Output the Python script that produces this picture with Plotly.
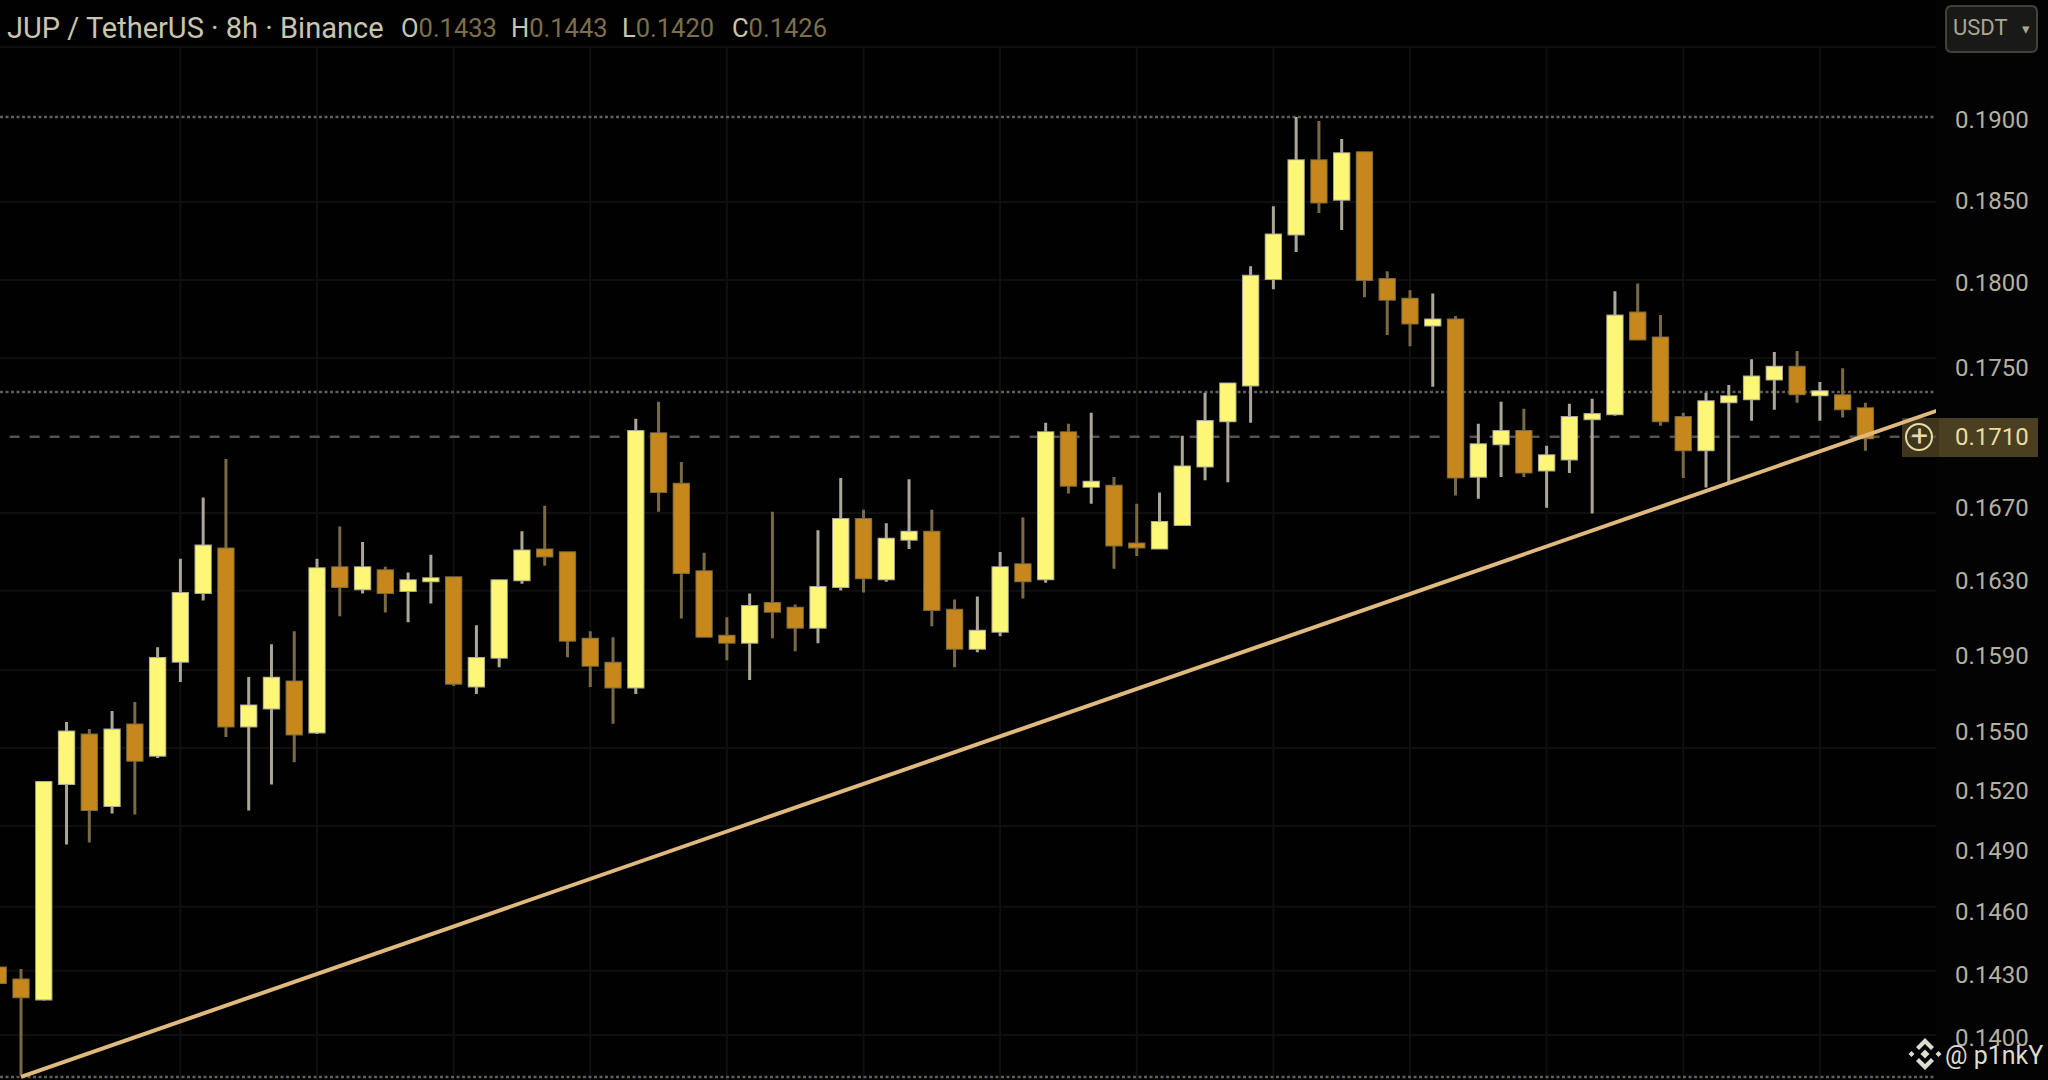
import plotly.graph_objects as go

W, H = 2048, 1080

index = list(range(83))
open_ = [.1433,.14273,.14183,.15236,.15484,.15125,.15536,.15381,.15869,.16236,.16473,.15531,.15624,.1576,.155,.16371,.16257,.16354,.16247,.163,
         .16316,.15739,.1589,.16305,.16468,.16452,.15986,.15858,.15734,.17117,.16831,.16349,.16001,.1597,.16177,.16151,.1605,.16268,.16635,.16311,
         .16527,.16565,.1614,.15938,.16028,.16387,.16311,.17123,.1682,.1682,.165,.16478,.16608,.16934,.17191,.17397,.18024,.18293,.18744,.18506,
         .18794,.18018,.179,.17747,.17777,.16877,.1706,.17129,.16912,.16974,.17203,.17231,.17818,.17671,.17209,.17026,.173,.17317,.17431,.175,
         .1734,.17334,.1726]
high = [.1443,.14325,.15242,.15552,.15516,.15609,.15656,.15943,.16419,.16757,.16974,.15786,.15959,.16028,.16419,.16597,.16511,.16376,.16344,.16441,
        .16316,.1606,.163,.1657,.16712,.16452,.16028,.15996,.17203,.173,.16957,.16452,.16103,.16231,.16678,.16172,.16576,.16866,.16689,.16614,
        .1686,.16689,.16199,.16215,.16457,.16646,.1718,.17174,.17237,.16872,.16723,.16786,.17106,.17352,.17403,.18097,.18463,.19019,.18994,.18881,
        .18794,.18067,.17953,.17935,.178,.17174,.173,.1726,.17049,.17289,.17317,.17947,.17994,.17806,.17237,.17352,.17397,.17547,.17588,.17594,
        .17414,.17494,.17294]
low = [.1420,.13828,.14174,.1493,.1494,.15085,.1508,.15366,.1576,.16193,.15474,.151,.15231,.15345,.1549,.16108,.16231,.16129,.16076,.16177,
       .15739,.15697,.15838,.16284,.16381,.1589,.15734,.15542,.15697,.16678,.16097,.15996,.15874,.1577,.15991,.15922,.15965,.16247,.16236,.16295,
       .16473,.16055,.15838,.15917,.16001,.16204,.16289,.1678,.16723,.16365,.16435,.16473,.16603,.16854,.16843,.1718,.17959,.18183,.18421,.18317,
       .17912,.17688,.17623,.17386,.16769,.16751,.16872,.16872,.167,.16894,.16668,.1722,.17659,.17163,.16866,.16814,.16837,.17191,.17254,.17294,
       .17191,.17209,.1702]
close = [.1426,.14193,.15242,.155,.15105,.1551,.15355,.15884,.16231,.16489,.15531,.15635,.1578,.1549,.16365,.16268,.16371,.16236,.163,.16311,
         .15754,.15884,.163,.16462,.16435,.1598,.15848,.15734,.17129,.16791,.16344,.16001,.1597,.16161,.16135,.1605,.16263,.16635,.16316,.16527,
         .16565,.16145,.15938,.16028,.16371,.163,.17123,.16826,.16843,.16495,.16484,.16619,.16929,.17186,.17403,.18037,.18287,.18744,.18488,.18788,
         .18018,.179,.17759,.17777,.16872,.17054,.17129,.169,.16992,.17209,.17226,.178,.17665,.17191,.17026,.173,.17329,.17443,.175,.17346,
         .17357,.1726,.17094]

tick_values = [.19,.185,.18,.175,.171,.167,.163,.159,.155,.152,.149,.146,.143,.14]
tick_labels = ["0.1900","0.1850","0.1800","0.1750",'<span style="color:#e9dca0">0.1710</span>',"0.1670","0.1630",
               "0.1590","0.1550","0.1520","0.1490","0.1460","0.1430","0.1400"]

grid_levels = [.19467,.18489,.18015,.17554,.16671,.16245,.15823,.15418,.15023,.14624,.14316,.14014]
time_grid = [8,14,20,26,32,38,44,50,56,62,68,74,80]
dotted_levels = [.19019,.17356,.13819]
last_price = .1710
trend_index = [1,85.15]
trend_price = [.1382,.17249]

x_range = [0.0777,85.1]
y_range_log = [-0.85995,-0.70391]
y_grid_bottom = .13600

GRID = "#0f0f0e"


def px(x):
    return x / W


def py(y):
    return 1 - y / H


def data_line(x0, x1, y0, y1, **line):
    return dict(type="line", xref="x", yref="y", x0=x0, x1=x1, y0=y0, y1=y1, line=line, layer="below")


fig = go.Figure()

# wicks
fig.add_trace(go.Candlestick(
    x=index, open=open_, high=high, low=low, close=close,
    increasing=dict(line=dict(color="#aaa797", width=3), fillcolor="#aaa797"),
    decreasing=dict(line=dict(color="#7a6a44", width=3), fillcolor="#7a6a44"),
    hoverinfo="skip"))
# bodies
fig.add_trace(go.Candlestick(
    x=index, open=open_, close=close,
    high=[max(o, c) for o, c in zip(open_, close)],
    low=[min(o, c) for o, c in zip(open_, close)],
    increasing=dict(line=dict(color="#fdf778", width=1), fillcolor="#fdf778"),
    decreasing=dict(line=dict(color="#c6881c", width=1), fillcolor="#c6881c"),
    hoverinfo="skip"))

fig.add_trace(go.Scatter(x=trend_index, y=trend_price, mode="lines",
                         line=dict(color="#dfb97e", width=4), hoverinfo="skip"))

shapes = []
for level in grid_levels:
    shapes.append(data_line(x_range[0], x_range[1], level, level, color=GRID, width=2))
for t in time_grid:
    shapes.append(data_line(t, t, grid_levels[0], y_grid_bottom, color=GRID, width=2))
for level in dotted_levels:
    shapes.append(data_line(x_range[0], x_range[1], level, level, color="#615e55", width=2.5, dash="3px,2.5px"))
shapes.append(data_line(0.5, x_range[1], last_price, last_price, color="#55534c", width=2.5, dash="10px,10px"))

shapes += [
    # price tag
    dict(type="rect", xref="paper", yref="paper", x0=px(1902), x1=px(1939), y0=py(457), y1=py(418),
         fillcolor="#3f351b", line=dict(width=0), layer="below"),
    dict(type="rect", xref="paper", yref="paper", x0=px(1939), x1=px(2038), y0=py(457), y1=py(418),
         fillcolor="#4a3f20", line=dict(width=0), layer="below"),
    dict(type="circle", xref="paper", yref="paper", x0=px(1906), x1=px(1932), y0=py(450), y1=py(424),
         line=dict(color="#e6dca8", width=2), layer="above"),
    # currency button
    dict(type="path", xref="paper", yref="paper", layer="below", fillcolor="#191917",
         line=dict(color="#43413b", width=2),
         path=(f"M {px(1952)} {py(6)} L {px(2031)} {py(6)} Q {px(2037)} {py(6)} {px(2037)} {py(12)} "
               f"L {px(2037)} {py(46)} Q {px(2037)} {py(52)} {px(2031)} {py(52)} L {px(1952)} {py(52)} "
               f"Q {px(1946)} {py(52)} {px(1946)} {py(46)} L {px(1946)} {py(12)} Q {px(1946)} {py(6)} {px(1952)} {py(6)} Z")),
]


def poly(points, color):
    d = "M " + " L ".join(f"{px(x)} {py(y)}" for x, y in points) + " Z"
    return dict(type="path", xref="paper", yref="paper", path=d, fillcolor=color, line=dict(width=0), layer="above")


LOGO = "#dcdccf"
cx, cy = 1925, 1054
shapes += [
    poly([(cx, cy - 4.5), (cx + 4.5, cy), (cx, cy + 4.5), (cx - 4.5, cy)], LOGO),
    poly([(cx - 13.5, cy - 3), (cx - 10.5, cy), (cx - 13.5, cy + 3), (cx - 16.5, cy)], LOGO),
    poly([(cx + 13.5, cy - 3), (cx + 16.5, cy), (cx + 13.5, cy + 3), (cx + 10.5, cy)], LOGO),
    poly([(cx, cy - 16), (cx + 9, cy - 7), (cx + 6, cy - 4), (cx, cy - 10), (cx - 6, cy - 4), (cx - 9, cy - 7)], LOGO),
    poly([(cx, cy + 16), (cx + 9, cy + 7), (cx + 6, cy + 4), (cx, cy + 10), (cx - 6, cy + 4), (cx - 9, cy + 7)], LOGO),
]


def note(x, y, text, size, color, anchor="left", family="Roboto"):
    return dict(xref="paper", yref="paper", x=px(x), y=py(y), text=text, showarrow=False, xanchor=anchor, yanchor="middle",
                font=dict(family=family, size=size, color=color), borderpad=0)


HEAD = "#c9c5ae"
VAL = "#7d6f49"
annotations = [
    note(6, 28, "JUP / TetherUS · 8h · Binance", 29, HEAD),
    note(400, 28, f'O<span style="color:{VAL}">0.1433</span>', 25.5, HEAD),
    note(510, 28, f'H<span style="color:{VAL}">0.1443</span>', 25.5, HEAD),
    note(621, 28, f'L<span style="color:{VAL}">0.1420</span>', 25.5, HEAD),
    note(731, 28, f'C<span style="color:{VAL}">0.1426</span>', 25.5, HEAD),
    note(1952, 28, "USDT", 22, "#a9a692"),
    note(2026, 29, "▾", 15, "#a9a692", "center", "DejaVu Sans"),
    note(1919, 436, "+", 30, "#e6dca8", "center"),
    note(1944, 1055, "@ p1nkY", 25, "#dcdccf"),
]

fig.update_layout(
    width=W, height=H, margin=dict(l=0, r=0, t=0, b=0),
    paper_bgcolor="#030303", plot_bgcolor="#010101", showlegend=False, boxgap=0.1,
    shapes=shapes, annotations=annotations,
    xaxis=dict(domain=[0, 1936 / W], range=x_range, showgrid=False, zeroline=False, showticklabels=False,
               ticks="", showline=False, rangeslider=dict(visible=False), fixedrange=True),
    yaxis=dict(type="log", range=y_range_log, side="right", tickmode="array", tickvals=tick_values, ticktext=tick_labels,
               showgrid=False, zeroline=False, ticks="", showline=False, ticklabelstandoff=18, fixedrange=True,
               tickfont=dict(family="Roboto", size=24, color="#b4b1a0")),
)

fig.write_html("out.html", config=dict(displayModeBar=False),
               post_script="document.body.style.margin='0';document.body.style.background='#030303';")
